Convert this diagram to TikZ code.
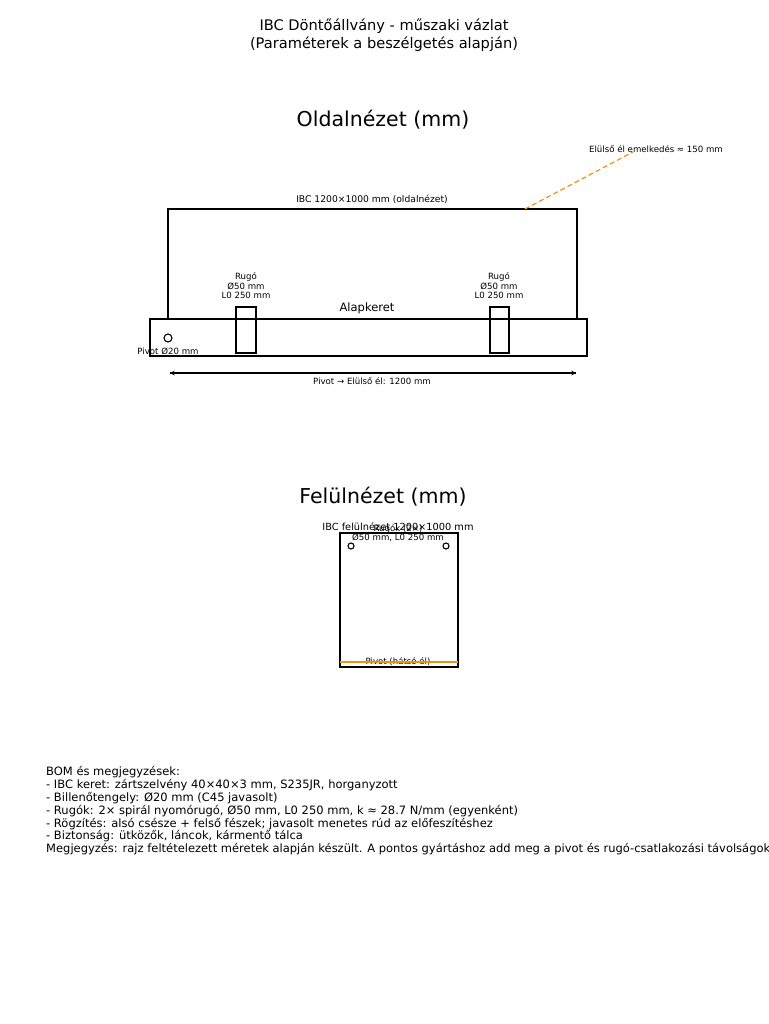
\documentclass[tikz,border=0pt]{standalone}
\usepackage{fontspec}
\setmainfont{DejaVu Sans}
\begin{document}
\begin{tikzpicture}[x=1pt,y=-1pt,
  box/.style={draw,line width=1.1pt},
  lbl/.style={font=\fontsize{8.6}{9.6}\selectfont,inner sep=0pt},
  orange/.style={draw={rgb,255:red,230;green,150;blue,20},line width=1.2pt}]
\useasboundingbox (0,0) rectangle (768,1024);
\clip (0,0) rectangle (768,1024);
\node[align=center,font=\fontsize{14.6}{17.5}\selectfont] (t) at (384,35) {IBC Döntőállvány - műszaki vázlat\\(Paraméterek a beszélgetés alapján)};
\node[font=\fontsize{20.5}{24}\selectfont] (h1) at (383,120) {Oldalnézet (mm)};
% side view
\node[box,minimum width=409,minimum height=110,inner sep=0pt] (ibc) at (372.5,264) {};
\node[lbl,font=\fontsize{9.2}{10}\selectfont] (ibcl) at (372,199) {IBC 1200×1000 mm (oldalnézet)};
\node[box,minimum width=437,minimum height=37,inner sep=0pt] (base) at (368.5,337.5) {};
\node[font=\fontsize{11.5}{13}\selectfont] (bl) at (367,308) {Alapkeret};
\node[box,minimum width=20,minimum height=46,inner sep=0pt] (s1) at (246,330) {};
\node[box,minimum width=19,minimum height=46,inner sep=0pt] (s2) at (499.5,330) {};
\node[lbl,align=center] (s1l) at (246,286) {Rugó\\Ø50 mm\\L0 250 mm};
\node[lbl,align=center] (s2l) at (499,286) {Rugó\\Ø50 mm\\L0 250 mm};
\node[draw,circle,line width=1.1pt,minimum size=8,inner sep=0pt] (pv) at (168,338) {};
\node[lbl] (pvl) at (168,351) {Pivot Ø20 mm};
\coordinate (a1) at (170,373); \coordinate (a2) at (576,373);
\draw[-stealth,line width=1.1pt] (a1) -- (a2);
\draw[-stealth,line width=1.1pt] (a2) -- (a1);
\node[lbl] (al) at (372,381) {Pivot → Elülső él: 1200 mm};
\coordinate (o1) at (525,209); \coordinate (o2) at (633,152);
\draw[orange,dashed,dash pattern=on 5pt off 3pt] (o1) -- (o2);
\node[lbl] (ol) at (656,149) {Elülső él emelkedés ≈ 150 mm};
% top view
\node[font=\fontsize{20.5}{24}\selectfont] (h2) at (383,497) {Felülnézet (mm)};
\node[box,minimum width=118,minimum height=134,inner sep=0pt] (top) at (399,600) {};
\node[font=\fontsize{9.8}{11}\selectfont,inner sep=0pt] (tl) at (398,527) {IBC felülnézet 1200×1000 mm};
\node[lbl,align=center] (tl2) at (398,533) {Rugók (2×)\\Ø50 mm, L0 250 mm};
\node[draw,circle,line width=1.1pt,minimum size=6,inner sep=0pt] (c1) at (351,546) {};
\node[draw,circle,line width=1.1pt,minimum size=6,inner sep=0pt] (c2) at (446,546) {};
\coordinate (p1) at (340,662); \coordinate (p2) at (458,662);
\node[lbl] (pl) at (398,662) {Pivot (hátsó él)};
\draw[orange] (p1) -- (p2);
% BOM
\node[anchor=north west,align=left,inner sep=0pt,font=\fontsize{11.5}{12.9}\selectfont] (bom) at (46,766) {BOM és megjegyzések:\\
- IBC keret: zártszelvény 40×40×3 mm, S235JR, horganyzott\\
- Billenőtengely: Ø20 mm (C45 javasolt)\\
- Rugók: 2× spirál nyomórugó, Ø50 mm, L0 250 mm, k ≈ 28.7 N/mm (egyenként)\\
- Rögzítés: alsó csésze + felső fészek; javasolt menetes rúd az előfeszítéshez\\
- Biztonság: ütközők, láncok, kármentő tálca\\
Megjegyzés: rajz feltételezett méretek alapján készült. A pontos gyártáshoz add meg a pivot és rugó-csatlakozási távolságokat.};
\end{tikzpicture}
\end{document}
